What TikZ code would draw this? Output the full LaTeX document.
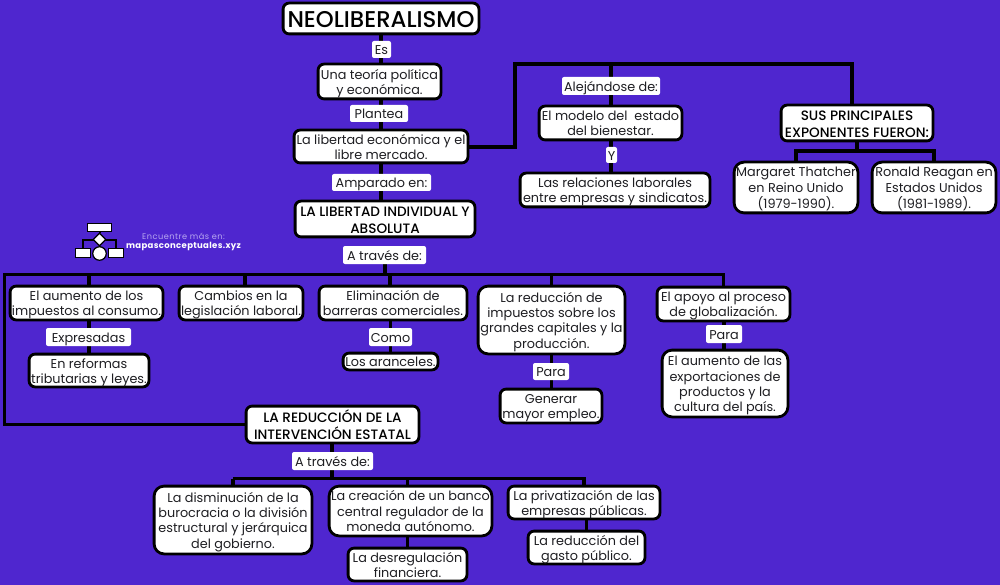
\documentclass[tikz,border=0pt]{standalone}
\usepackage{fontspec}
\setmainfont{Poppins}
\newfontfamily\popmed{Poppins Medium}
\usetikzlibrary{backgrounds,shapes.geometric}
\definecolor{bgviolet}{HTML}{4F26CF}
\definecolor{ink}{HTML}{1E1E22}
\definecolor{lavender}{HTML}{B9A8F0}
\def\txtdrop{-5.2pt}
\tikzset{
  conc/.style={draw=black,line width=2.8pt,fill=white,rounded corners=6pt,inner sep=0pt,align=center,text=ink,font=\fontsize{12.8}{15.4}\selectfont},
  concbig/.style={conc,rounded corners=10pt},
  head/.style={conc,font=\popmed\fontsize{13.6}{16.5}\selectfont\def\txtdrop{-6.2pt},text=black},
  title/.style={conc,font=\popmed\fontsize{22.8}{28}\selectfont\def\txtdrop{-8.6pt},text=black},
  link/.style={fill=white,rounded corners=2pt,inner sep=0pt,align=center,text=ink,font=\fontsize{12.8}{15.4}\selectfont},
  wire/.style={draw=black,line width=3.2pt},
  logobox/.style={draw=black,line width=1.2pt,fill=white,inner sep=0pt}
}
\newcommand\txt[1]{\raisebox{\txtdrop}[0pt][0pt]{\begin{tabular}{@{}c@{}}#1\end{tabular}}}
\newcommand\bx[7]{\node[#1,minimum width={(#5-#3)*1pt-2.2pt},minimum height={(#6-#4)*1pt-2.2pt}] (#2) at ({(#3+#5)/2},{(#4+#6)/2}) {\txt{#7}};}
\newcommand\lb[7]{\node[#1,minimum width={(#5-#3)*1pt},minimum height={(#6-#4)*1pt}] (#2) at ({(#3+#5)/2},{(#4+#6)/2}) {\txt{#7}};}
\begin{document}
\begin{tikzpicture}[x=1pt,y=-1pt]
\useasboundingbox (0,0) rectangle (1000,585);
% concepts
\bx{title}{neo}{282}{2}{480}{35}{NEOLIBERALISMO}
\lb{link}{es}{372}{41}{391}{58}{Es}
\bx{conc}{teoria}{317}{63}{442}{100}{Una teoría política\\y económica.}
\lb{link}{plantea}{350}{105}{408}{122}{Plantea}
\bx{conc}{libertad}{293}{129}{469}{164}{La libertad económica y el\\libre mercado.}
\lb{link}{amparado}{332}{174}{431}{191}{Amparado en:}
\bx{head}{indiv}{294}{200}{476}{238}{LA LIBERTAD INDIVIDUAL Y\\ABSOLUTA}
\lb{link}{traves}{343}{246}{426}{264}{A través de:}
% right branch
\lb{link}{alejandose}{562}{77}{660}{95}{Alejándose de:}
\bx{conc}{modelo}{538}{105}{683}{141}{El modelo del\ \ estado\\del bienestar.}
\lb{link}{ylink}{606}{147}{617}{163}{Y}
\bx{conc}{relaciones}{519}{172}{711}{208}{Las relaciones laborales\\entre empresas y sindicatos.}
\bx{head}{sus}{780}{104}{934}{142}{SUS PRINCIPALES\\EXPONENTES FUERON:}
\bx{concbig}{margaret}{733}{161}{859}{214}{Margaret Thatcher\\en Reino Unido\\(1979-1990).}
\bx{concbig}{ronald}{871}{161}{997}{214}{Ronald Reagan en\\Estados Unidos\\(1981-1989).}
% middle row
\bx{conc}{consumo}{9}{285}{164}{321}{El aumento de los\\impuestos al consumo.}
\lb{link}{expresadas}{46}{328}{131}{346}{Expresadas}
\bx{conc}{reformas}{28}{353}{150}{388}{En reformas\\tributarias y leyes.}
\bx{conc}{cambios}{178}{285}{304}{321}{Cambios en la\\legislación laboral.}
\bx{conc}{barreras}{318}{285}{468}{321}{Eliminación de\\barreras comerciales.}
\lb{link}{como}{369}{328}{412}{346}{Como}
\bx{conc}{aranceles}{342}{352}{439}{371}{Los aranceles.}
\bx{concbig}{capitales}{477}{285}{626}{355}{La reducción de\\impuestos sobre los\\grandes capitales y la\\producción.}
\lb{link}{para}{533}{363}{569}{380}{Para}
\bx{conc}{empleo}{499}{388}{603}{424}{Generar\\mayor empleo.}
\bx{conc}{global}{656}{286}{791}{322}{El apoyo al proceso\\de globalización.}
\lb{link}{parab}{706}{325}{742}{343}{Para}
\bx{concbig}{export}{661}{349}{789}{418}{El aumento de las\\exportaciones de\\productos y la\\cultura del país.}
% lower
\bx{head}{estatal}{245}{405}{420}{444}{LA REDUCCIÓN DE LA\\INTERVENCIÓN ESTATAL}
\lb{link}{travesb}{292}{452}{373}{470}{A través de:}
\bx{concbig}{burocracia}{153}{485}{313}{555}{La disminución de la\\burocracia o la división\\estructural y jerárquica\\del gobierno.}
\bx{concbig}{banco}{328}{485}{493}{537}{La creación de un banco\\central regulador de la\\moneda autónomo.}
\bx{conc}{desreg}{347}{547}{468}{582}{La desregulación\\financiera.}
\bx{conc}{privat}{507}{485}{661}{520}{La privatización de las\\empresas públicas.}
\bx{conc}{gasto}{527}{530}{646}{565}{La reducción del\\gasto público.}
% logo
\node[logobox,minimum width=24pt,minimum height=8.5pt] (logotop) at (99.5,227.5) {};
\node[logobox,diamond,aspect=1,minimum size=13pt] (logodia) at (99.5,239.5) {};
\node[logobox,circle,minimum size=13.5pt] (logocirc) at (99.5,253.5) {};
\node[logobox,minimum width=15.5pt,minimum height=8.5pt] (logol) at (83,253) {};
\node[logobox,minimum width=15.5pt,minimum height=8.5pt] (logor) at (116,253) {};
\node[inner sep=0pt,text=lavender,font=\fontsize{8.2}{9}\selectfont] (logoa) at (183.5,236.5) {\addfontfeature{LetterSpace=6}Encuentre más en:};
\node[inner sep=0pt,text=white,font=\bfseries\fontsize{8.5}{9}\selectfont] (logob) at (183.5,246.5) {\addfontfeature{LetterSpace=4}mapasconceptuales.xyz};
% junctions
\coordinate (busl) at (4.3,274.5);
\coordinate (busb) at (233,478.5);
\coordinate (corner) at (4.3,424.5);
\coordinate (ra) at (515,147);
\coordinate (rb) at (515,64);
\coordinate (rc) at (852,64);
\begin{scope}[on background layer]
\fill[bgviolet] (0,0) rectangle (1000,585);
\draw[wire] (neo.south) -- (neo.south |- indiv.north);
\draw[wire] (traves.south -| 385,0) -- (385,274.5);
\draw[wire] (libertad.east |- ra) -- (ra) -- (rb) -- (rc) -- (rc |- sus.north);
\draw[wire] (alejandose.center |- rb) -- (alejandose.center |- relaciones.north);
\draw[wire] (sus.south -| 857,0) -- (857,151);
\draw[wire] (margaret.north) -- (margaret.north |- 0,151) -- (ronald.north |- 0,151) -- (ronald.north);
\draw[wire] (estatal.west |- corner) -- (corner) -- (busl) -- (global.north |- busl) -- (global.north);
\draw[wire] (89,274.5) -- (consumo.north -| 89,0);
\draw[wire] (245,274.5) -- (cambios.north -| 245,0);
\draw[wire] (390,274.5) -- (barreras.north -| 390,0);
\draw[wire] (capitales.north |- busl) -- (capitales.north);
\draw[wire] (consumo.south -| reformas.north) -- (reformas.north);
\draw[wire] (barreras.south -| como.north) -- (aranceles.north -| como.north);
\draw[wire] (capitales.south) -- (empleo.north -| capitales.south);
\draw[wire] (global.south -| parab.north) -- (export.north -| parab.north);
\draw[wire] (estatal.south -| 332,0) -- (332,478.5);
\draw[wire] (burocracia.north |- busb) -- (privat.north |- busb) -- (privat.north);
\draw[wire] (burocracia.north |- busb) -- (burocracia.north);
\draw[wire] (407.5,478.5) -- (407.5,547);
\draw[wire] (privat.south -| gasto.north) -- (gasto.north);
\draw[black,line width=2pt] (logotop.south) -- (logodia.north);
\draw[black,line width=2pt] (logodia.south) -- (logocirc.north);
\draw[black,line width=2pt] (logol.north) -- (logol.north |- logodia) -- (logor.north |- logodia) -- (logor.north);
\end{scope}
\end{tikzpicture}
\end{document}
